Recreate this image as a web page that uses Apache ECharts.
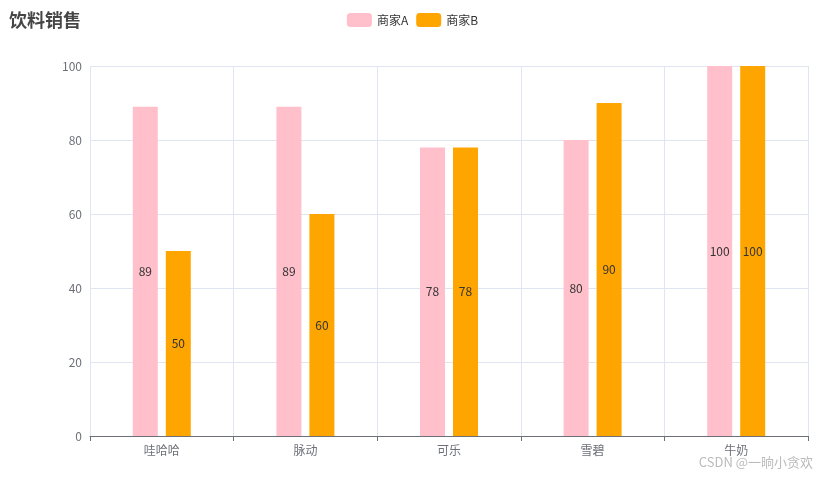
<!DOCTYPE html>
<html>
<head>
<meta charset="utf-8">
<script src="https://cdn.jsdelivr.net/npm/echarts@6/dist/echarts.min.js"></script>
<style>html,body{margin:0;padding:0;background:#fff}#main{width:825px;height:485px}</style>
</head>
<body>
<div id="main"></div>
<script>
var categories = ["哇哈哈", "脉动", "可乐", "雪碧", "牛奶"];
var sellerA = [89, 89, 78, 80, 100];
var sellerB = [50, 60, 78, 90, 100];

var chart = echarts.init(document.getElementById("main"));
var font = "'Noto Sans CJK SC', sans-serif";

chart.setOption({
  textStyle: { fontFamily: font },
  title: { text: "饮料销售", left: 4, top: 6, textStyle: { fontSize: 18, fontWeight: "bold", color: "#464646", fontFamily: font } },
  legend: { top: 8, left: "center", itemWidth: 25, itemHeight: 14, textStyle: { fontSize: 12, color: "#333" } },
  grid: { left: 90, right: 17, top: 66, bottom: 49 },
  xAxis: {
    type: "category",
    data: categories,
    axisLine: { lineStyle: { color: "#6e7079" } },
    axisTick: { show: true },
    axisLabel: { color: "#6e7079", fontSize: 12 },
    splitLine: { show: true, lineStyle: { color: "#e0e6f1" } }
  },
  yAxis: {
    type: "value",
    min: 0, max: 100, interval: 20,
    axisLabel: { color: "#6e7079", fontSize: 12 },
    splitLine: { lineStyle: { color: "#e0e6f1" } }
  },
  series: [
    { name: "商家A", type: "bar", data: sellerA, barWidth: 25, barGap: "32%", itemStyle: { color: "#ffc0cb" },
      label: { show: true, position: "inside", color: "#333", fontSize: 12 } },
    { name: "商家B", type: "bar", data: sellerB, barWidth: 25, itemStyle: { color: "#ffa500" },
      label: { show: true, position: "inside", color: "#333", fontSize: 12 } }
  ],
  graphic: [{ type: "text", right: 12, bottom: 16, style: { text: "CSDN @一晌小贪欢", fill: "#bbb", font: "13px " + font } }]
});
</script>
</body>
</html>
